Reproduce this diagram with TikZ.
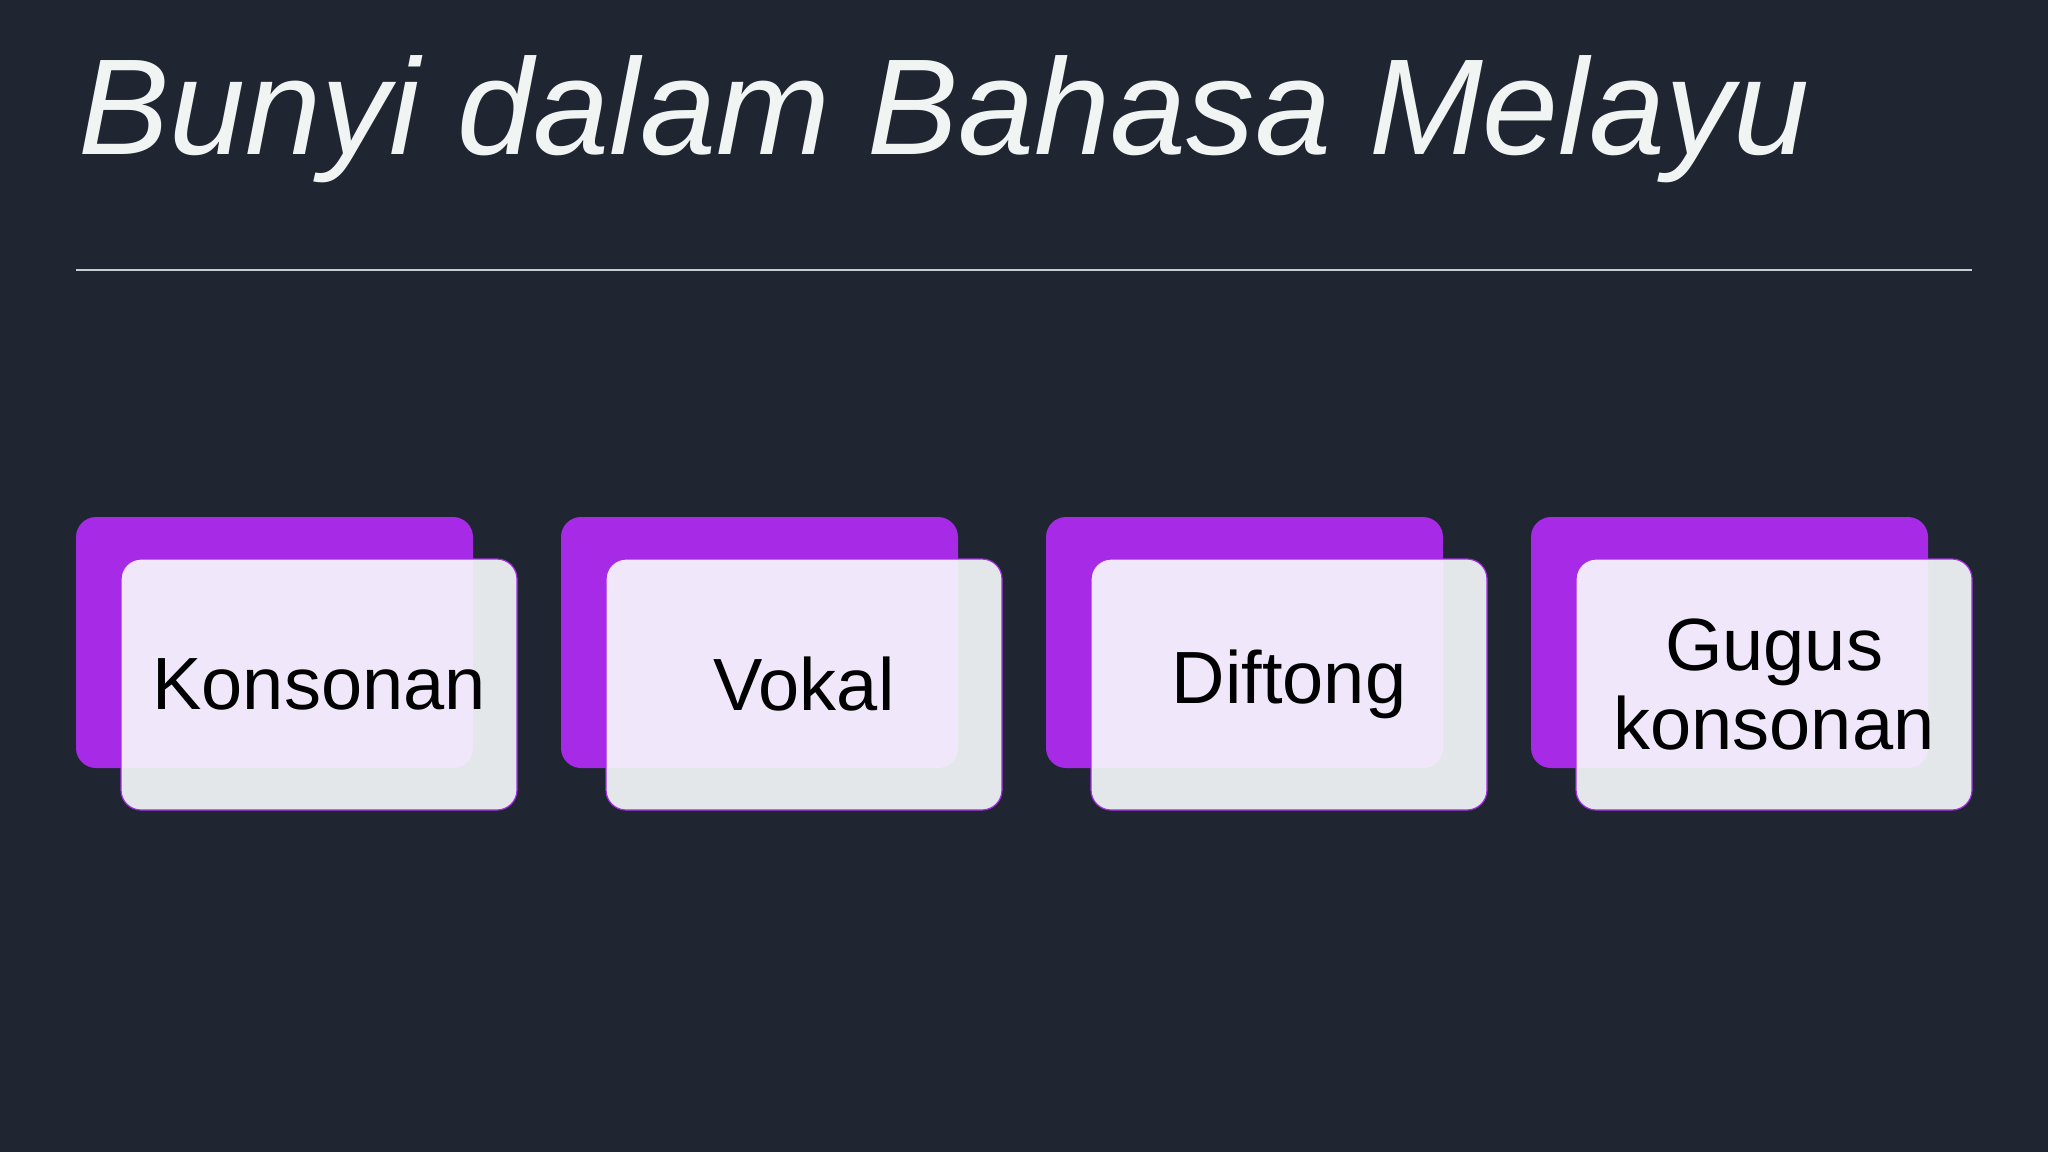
\documentclass[tikz,border=0pt]{standalone}
\usepackage{fontspec}
\setmainfont{Liberation Sans}
\usetikzlibrary{positioning}
\definecolor{slate}{RGB}{31,38,49}
\definecolor{violet}{RGB}{166,42,230}
\definecolor{rulegray}{RGB}{200,205,210}
\definecolor{paper}{RGB}{250,252,253}

\begin{document}
\begin{tikzpicture}[x=0.5pt,y=-0.5pt,
    backcard/.style={rectangle,rounded corners=10pt,fill=violet,draw=none,
        minimum width=198.5pt,minimum height=125.5pt,inner sep=0pt},
    frontcard/.style={rectangle,rounded corners=10pt,fill=paper,fill opacity=0.9,
        text opacity=1,draw=violet,line width=0.6pt,
        minimum width=198pt,minimum height=125.5pt,inner sep=0pt,
        align=center,font=\fontsize{37pt}{39.5pt}\selectfont,text=black}]
% background
\fill[slate] (0,0) rectangle (2048,1152);
\useasboundingbox (0,0) rectangle (2048,1152);

% title and rule
\node[anchor=base west,inner sep=0pt,text={rgb,255:red,240;green,244;blue,243},
    font=\fontsize{68.3pt}{80pt}\selectfont\itshape] (title) at (78,154)
    {Bunyi dalam Bahasa Melayu};
\coordinate (ruleL) at (76,270);
\coordinate (ruleR) at (1972,270);
\draw[rulegray,line width=0.75pt] (ruleL) -- (ruleR);

% the four cards
\foreach \name/\txt [count=\i from 0] in {kons/Konsonan,vokal/Vokal,dift/Diftong,gugus/{Gugus\\konsonan}} {
    \node[backcard] (\name-back) at ({274.5+485*\i},642.5) {};
    \node[frontcard] (\name) at ({319+485*\i},684.5) {\txt};
}

\end{tikzpicture}
\end{document}
